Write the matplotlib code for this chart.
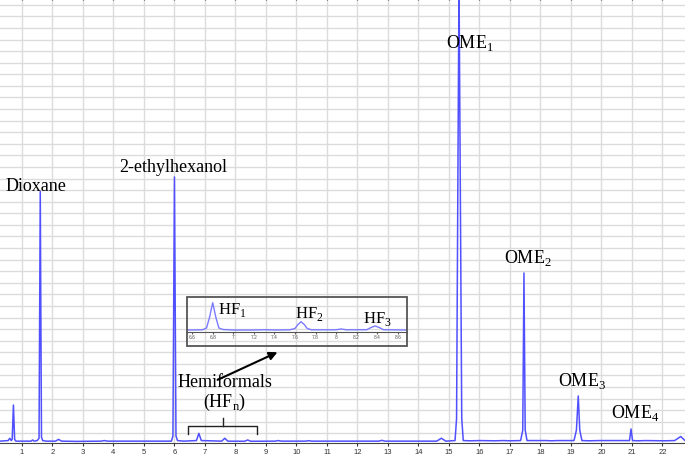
import matplotlib.pyplot as plt
import matplotlib.patches as patches
import numpy as np

plt.rcParams["font.family"] = ["Liberation Serif", "DejaVu Serif"]
plt.rcParams["mathtext.fontset"] = "custom"
plt.rcParams["mathtext.rm"] = "Liberation Serif"

# Chromatogram trace (retention time in min, signal in grid units)
time_min = [
    0.28, 0.55, 0.6, 0.65, 0.68, 0.72, 0.76, 0.8, 1.3, 1.35, 1.4, 1.5,
    1.56, 1.6, 1.64, 1.68, 1.8, 2.1, 2.2, 2.3, 2.8, 3.6, 3.7, 3.8, 4.2,
    5.9, 5.95, 6.0, 6.05, 6.1, 6.3, 6.72, 6.8, 6.88, 7.55, 7.65, 7.75,
    8.3, 8.4, 8.5, 9.3, 9.4, 9.5, 10.3, 10.4, 10.5, 12.7, 12.8, 12.9,
    14.6, 14.75, 14.9, 15.2, 15.25, 15.33, 15.42, 15.47, 15.7, 16.0, 16.5,
    16.8, 17.0, 17.35, 17.42, 17.46, 17.5, 17.56, 18.2, 18.35, 18.55,
    19.1, 19.18, 19.24, 19.29, 19.36, 19.6, 19.9, 20.55, 20.92, 20.97,
    21.02, 21.2, 21.45, 22.05, 22.4, 22.6, 22.74
]
signal = [
    0.05, 0.1, 0.3, 0.1, 0.2, 3.17, 0.2, 0.05, 0.05, 0.15, 0.05, 0.1,
    0.3, 21.6, 0.4, 0.1, 0.05, 0.05, 0.2, 0.05, 0.03, 0.05, 0.1, 0.05, 0.05,
    0.05, 0.5, 22.86, 0.5, 0.1, 0.05, 0.1, 0.72, 0.1, 0.05, 0.3, 0.05,
    0.04, 0.15, 0.04, 0.05, 0.1, 0.05, 0.05, 0.09, 0.05, 0.05, 0.12, 0.05,
    0.05, 0.3, 0.05, 0.1, 2.0, 40.0, 2.0, 0.1, 0.08, 0.1, 0.08,
    0.1, 0.08, 0.1, 1.0, 14.57, 1.0, 0.1, 0.1, 0.08, 0.1,
    0.1, 1.0, 3.95, 1.0, 0.1, 0.08, 0.1, 0.1, 0.1, 1.1,
    0.1, 0.08, 0.1, 0.08, 0.1, 0.45, 0.1
]

# Zoomed hemiformal region (inset)
inset_time = [
    6.55, 6.7, 6.74, 6.77, 6.8, 6.83, 6.86, 6.9, 7.0, 7.2, 7.3, 7.4,
    7.55, 7.6, 7.63, 7.66, 7.69, 7.72, 7.76, 8.0, 8.05, 8.1, 8.3, 8.34,
    8.38, 8.42, 8.46, 8.69
]
inset_signal = [
    2.0, 2.2, 4.0, 15.0, 29.3, 15.0, 4.0, 2.5, 2.0, 2.0, 2.3, 2.0,
    2.2, 3.5, 7.5, 10.3, 7.5, 3.5, 2.2, 2.2, 3.0, 2.2, 2.3, 4.5,
    6.0, 4.5, 2.3, 2.0
]
inset_ticks = [6.6, 6.8, 7.0, 7.2, 7.4, 7.6, 7.8, 8.0, 8.2, 8.4, 8.6]
inset_tick_labels = ["6.6", "6.8", "7", "7.2", "7.4", "7.6", "7.8", "8", "8.2", "8.4", "8.6"]

main_ticks = list(range(1, 23))

trace_color = "#5050ff"
grid_color = "#dcdcdc"

W, H = 685, 457
fig = plt.figure(figsize=(W / 100, H / 100), dpi=100)
ax = fig.add_axes([0, 14 / H, 1, 443 / H])

ax.plot(time_min, signal, color=trace_color, linewidth=1.1)

ax.set_xlim(0.28, 22.74)
ax.set_ylim(-0.11, 38.14)
ax.set_xticks(main_ticks)
ax.set_yticks(np.arange(0.725, 38.1, 1))
ax.set_yticklabels([])
ax.grid(True, color=grid_color, linewidth=1.0)
ax.set_axisbelow(True)
ax.tick_params(axis="x", labelsize=5.5, colors="#333333", length=2,
               top=True, pad=2)
ax.tick_params(axis="y", length=0)
for lab in ax.get_xticklabels():
    lab.set_family("Liberation Sans")
for side in ["top", "left", "right"]:
    ax.spines[side].set_visible(False)
ax.spines["bottom"].set_color("#444444")

# Peak labels
fs = 13
ax.text(0.475, 21.65, "Dioxane", fontsize=fs, va="baseline")
ax.text(4.18, 23.29, "2-ethylhexanol", fontsize=fs, va="baseline")
ax.text(14.9, 34.0, r"OME$_\mathrm{1}$", fontsize=fs, va="baseline")
ax.text(16.8, 15.43, r"OME$_\mathrm{2}$", fontsize=fs, va="baseline")
ax.text(18.57, 4.81, r"OME$_\mathrm{3}$", fontsize=fs, va="baseline")
ax.text(20.31, 2.05, r"OME$_\mathrm{4}$", fontsize=fs, va="baseline")
ax.text(7.66, 4.72, "Hemiformals", fontsize=fs, ha="center", va="baseline")
ax.text(7.66, 3.0, r"(HF$_\mathrm{n}$)", fontsize=fs, ha="center", va="baseline")

# Bracket under the hemiformal peaks
ax.plot([6.44, 6.44, 8.7, 8.7], [0.66, 1.36, 1.36, 0.66],
        color="#222222", linewidth=1.0)
ax.plot([7.58, 7.58], [1.36, 2.05], color="#222222", linewidth=1.0)

# Arrow pointing to the inset
ax.annotate("", xy=(9.46, 7.83), xytext=(7.33, 5.24),
            arrowprops=dict(arrowstyle="-|>", color="black", lw=1.5,
                            mutation_scale=12))

# Inset
frame = patches.Rectangle((187 / W, (H - 346) / H), 220 / W, 49 / H,
                          transform=fig.transFigure, fill=False,
                          edgecolor="#555555", linewidth=1.3)
fig.patches.append(frame)

axi = fig.add_axes([187 / W, (H - 332) / H, 220 / W, 35 / H])
axi.patch.set_alpha(0)
axi.plot(inset_time, inset_signal, color="#7a7aff", linewidth=1.0)
axi.set_xlim(6.55, 8.69)
axi.set_ylim(0, 35)
axi.set_xticks(inset_ticks)
axi.set_xticklabels(inset_tick_labels)
axi.set_yticks([])
axi.tick_params(axis="x", labelsize=3.5, colors="#555555", length=1.5, pad=1)
for lab in axi.get_xticklabels():
    lab.set_family("Liberation Sans")
for side in ["top", "left", "right"]:
    axi.spines[side].set_visible(False)
axi.spines["bottom"].set_color("#555555")

axi.text(6.85, 18, r"HF$_\mathrm{1}$", fontsize=12, va="baseline")
axi.text(7.6, 14, r"HF$_\mathrm{2}$", fontsize=12, va="baseline")
axi.text(8.26, 9, r"HF$_\mathrm{3}$", fontsize=12, va="baseline")

fig.savefig("out.png", dpi=100)
